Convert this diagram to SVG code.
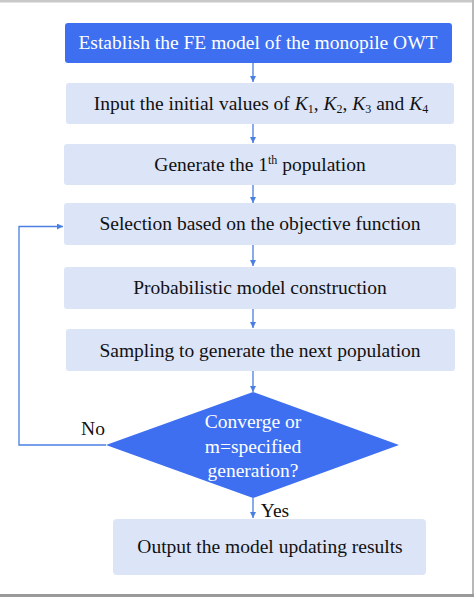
<svg xmlns="http://www.w3.org/2000/svg" width="474" height="597" viewBox="0 0 474 597">
<style>
text{font-family:"Liberation Serif","Times New Roman","DejaVu Serif",serif;font-size:19.5px;fill:#111;text-anchor:middle}
.dark{fill:#3d6ff0}
.light{fill:#dce4f8}
.w{fill:#fff}
.ln{stroke:#4a7fe2;stroke-width:1.3;fill:none}
</style>
<defs>
<marker id="ah" viewBox="0 0 10 10" refX="10" refY="5" markerWidth="6" markerHeight="6" markerUnits="userSpaceOnUse" orient="auto">
<path d="M0,0 L10,5 L0,10 Z" fill="#4a7fe2"/>
</marker>
</defs>
<rect x="0" y="0" width="474" height="597" fill="#fff"/>
<rect x="0" y="0" width="474" height="2.5" fill="#c8c8c8"/>
<rect x="472" y="0" width="2" height="597" fill="#b8b8b8"/>
<rect x="0" y="594" width="474" height="3" fill="#9a9a9a"/>

<g id="connectors">
<line class="ln" x1="253" y1="63" x2="253" y2="82" marker-end="url(#ah)"/>
<line class="ln" x1="253" y1="124" x2="253" y2="143" marker-end="url(#ah)"/>
<line class="ln" x1="253" y1="185" x2="253" y2="203" marker-end="url(#ah)"/>
<line class="ln" x1="253" y1="245" x2="253" y2="266" marker-end="url(#ah)"/>
<line class="ln" x1="253" y1="309" x2="253" y2="328" marker-end="url(#ah)"/>
<line class="ln" x1="253" y1="371" x2="253" y2="392" marker-end="url(#ah)"/>
<line class="ln" x1="253" y1="498" x2="253" y2="518" marker-end="url(#ah)"/>
<polyline class="ln" points="106,445 19,445 19,226.5 63,226.5" marker-end="url(#ah)"/>
</g>

<g id="n1">
<rect class="dark" x="65" y="23" width="387" height="40" rx="3"/>
<text class="w" x="258" y="49">Establish the FE model of the monopile OWT</text>
</g>
<g id="n2">
<rect class="light" x="66" y="83" width="388" height="41" rx="3"/>
<text x="261" y="110">Input the initial values of <tspan font-style="italic">K</tspan><tspan font-size="12" dy="3">1</tspan><tspan dy="-3">, </tspan><tspan font-style="italic">K</tspan><tspan font-size="12" dy="3">2</tspan><tspan dy="-3">, </tspan><tspan font-style="italic">K</tspan><tspan font-size="12" dy="3">3</tspan><tspan dy="-3"> and </tspan><tspan font-style="italic">K</tspan><tspan font-size="12" dy="3">4</tspan></text>
</g>
<g id="n3">
<rect class="light" x="64" y="144" width="392" height="41" rx="3"/>
<text x="260" y="171">Generate the 1<tspan font-size="12" dy="-7">th</tspan><tspan dy="7"> population</tspan></text>
</g>
<g id="n4">
<rect class="light" x="64" y="203" width="392" height="42" rx="3"/>
<text x="260" y="230">Selection based on the objective function</text>
</g>
<g id="n5">
<rect class="light" x="64" y="267" width="392" height="42" rx="3"/>
<text x="260" y="294">Probabilistic model construction</text>
</g>
<g id="n6">
<rect class="light" x="66" y="329" width="389" height="42" rx="3"/>
<text x="260" y="357">Sampling to generate the next population</text>
</g>
<g id="n7">
<polygon class="dark" points="253,392 399,445 253,498 106,445"/>
<text class="w" x="253" y="428">Converge or</text>
<text class="w" x="253" y="453">m=specified</text>
<text class="w" x="253" y="477">generation?</text>
</g>
<g id="n8">
<rect class="light" x="113" y="519" width="313" height="56" rx="4"/>
<text x="270" y="553">Output the model updating results</text>
</g>
<text x="93" y="435">No</text>
<text x="275" y="517">Yes</text>
</svg>
